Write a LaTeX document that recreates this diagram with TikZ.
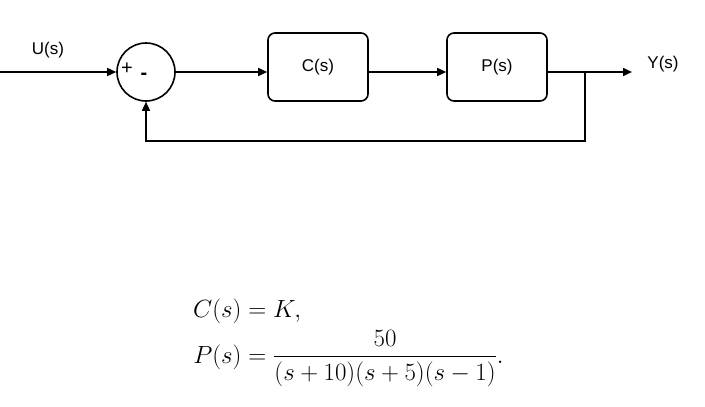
\documentclass[tikz,border=0pt]{standalone}
\usepackage{amsmath}
\usepackage{fontspec}
\newfontfamily\lab{Liberation Sans}
\usetikzlibrary{arrows.meta}
\begin{document}
\begin{tikzpicture}[x=1pt,y=-1pt,
  blk/.style={draw,line width=1.6pt,rounded corners=7pt,minimum width=100pt,minimum height=68pt,font=\lab\fontsize{17}{20}\selectfont},
  sumc/.style={draw,line width=1.6pt,circle,minimum size=58pt,inner sep=0pt},
  ln/.style={line width=1.6pt},
  arr/.style={ln,-{Triangle[length=9pt,width=8pt]}},
  lbl/.style={font=\lab\fontsize{17}{20}\selectfont}]
\useasboundingbox (0,0) rectangle (705,407);
\node[sumc] (sum) at (146,72) {};
\node[blk] (C) at (318,67) {C(s)};
\node[blk] (P) at (497,67) {P(s)};
\coordinate (in) at (0,72);
\coordinate (out) at (632,72);
\coordinate (br) at (585,72);
\node[lbl] (U) at (48,50) {U(s)};
\node[lbl] (Y) at (663,64) {Y(s)};
\node[font=\lab\fontsize{20}{22}\selectfont] (plus) at (127,69) {+};
\node[font=\lab\bfseries\fontsize{20}{22}\selectfont] (minus) at (144,76) {-};
\draw[arr] (in) -- (sum.west);
\draw[arr] (sum.east) -- (C.west |- sum.east);
\draw[arr] (C.east |- sum.east) -- (P.west |- sum.east);
\draw[arr] (P.east |- sum.east) -- (out);
\draw[arr] (br) -- (585,141) -- (146,141) -- (sum.south);
\node[anchor=north west,inner sep=0pt,font=\fontsize{23.5}{28}\selectfont] (eq) at (193,298) {$\begin{aligned}C(s)&=K,\\ P(s)&=\dfrac{50}{(s+10)(s+5)(s-1)}.\end{aligned}$};
\end{tikzpicture}
\end{document}
